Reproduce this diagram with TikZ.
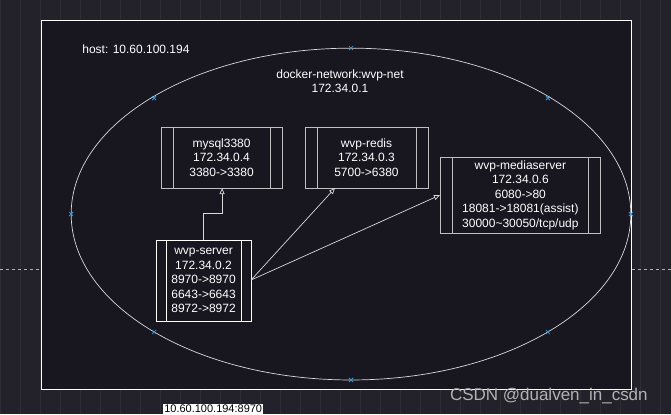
\documentclass[tikz,border=0pt]{standalone}
\usepackage{fontspec}
\setmainfont{Liberation Sans}
\usetikzlibrary{arrows.meta}
\definecolor{bgc}{HTML}{23222A}
\definecolor{gridc}{HTML}{2E2D35}
\definecolor{inner}{HTML}{18161F}
\definecolor{xmcol}{HTML}{3A9AD9}
\begin{document}
\begin{tikzpicture}[x=1pt,y=-1pt,
  txt/.style={text=white,font=\fontsize{12}{14.5}\selectfont,align=center,inner sep=0pt},
  proc/.style={draw=white!75!black,line width=0.8pt},
  conn/.style={draw=white!85!black,line width=0.7pt,-{Triangle[open,length=6pt,width=5pt]}},
  xm/.style={draw=xmcol,line width=0.8pt}]
\fill[bgc] (0,0) rectangle (671,414);
\draw[gridc,step=20] (0,0) grid (671,414);
\useasboundingbox (0,0) rectangle (671,414);
\draw[white!70!black,dashed] (0,269) -- (41,269) (632,269) -- (671,269);
\draw[white,fill=inner,line width=0.8pt] (41,20) rectangle (632,389);
\node[txt,anchor=west] (host) at (82,49) {host: 10.60.100.194};
\draw[white!85!black,line width=0.7pt] (351,214) ellipse [x radius=280,y radius=166];
\foreach \p in {(351,48),(154,98),(548,98),(71,214),(631,214),(154,332),(548,332),(351,380)}
  \draw[xm] \p ++(-2,-2) -- ++(4,4) \p ++(-2,2) -- ++(4,-4);
\node[txt] (net) at (340,81) {docker-network:wvp-net\\172.34.0.1};
% mysql
\draw[proc] (161,127) rectangle (282,188) (173,127) -- (173,188) (270,127) -- (270,188);
\node[txt] (mysql) at (221.5,157.5) {mysql3380\\172.34.0.4\\3380->3380};
\coordinate (mysqlb) at (222,188);
% redis
\draw[proc] (305,127) rectangle (428,188) (317,127) -- (317,188) (416,127) -- (416,188);
\node[txt] (redis) at (366.5,157.5) {wvp-redis\\172.34.0.3\\5700->6380};
\coordinate (redisb) at (335,188);
% media
\draw[proc] (440,157) rectangle (601,233) (452,157) -- (452,233) (589,157) -- (589,233);
\node[txt] (media) at (520.5,195) {wvp-mediaserver\\172.34.0.6\\6080->80\\18081->18081(assist)\\30000\textasciitilde30050/tcp/udp};
\coordinate (medial) at (440,195);
% server
\draw[proc,draw=white] (156,240) rectangle (251,321) (166,240) -- (166,321) (241,240) -- (241,321);
\node[txt] (server) at (203.5,280.5) {wvp-server\\172.34.0.2\\8970->8970\\6643->6643\\8972->8972};
\coordinate (servert) at (203,240);
\coordinate (serverr) at (251,280);
\draw[conn] (servert) -- (203,213) -- (222,213) -- (mysqlb);
\draw[conn] (serverr) -- (redisb);
\draw[conn] (serverr) -- (medial);
\node[fill=white,text=black,inner sep=1pt,font=\fontsize{11}{12}\selectfont,anchor=north west] (lbl) at (163,404) {10.60.100.194:8970};
\node[text=white!70!black,font=\fontsize{17}{18}\selectfont,anchor=center] (wm) at (549,396) {CSDN @dualven\_in\_csdn};
\end{tikzpicture}
\end{document}
